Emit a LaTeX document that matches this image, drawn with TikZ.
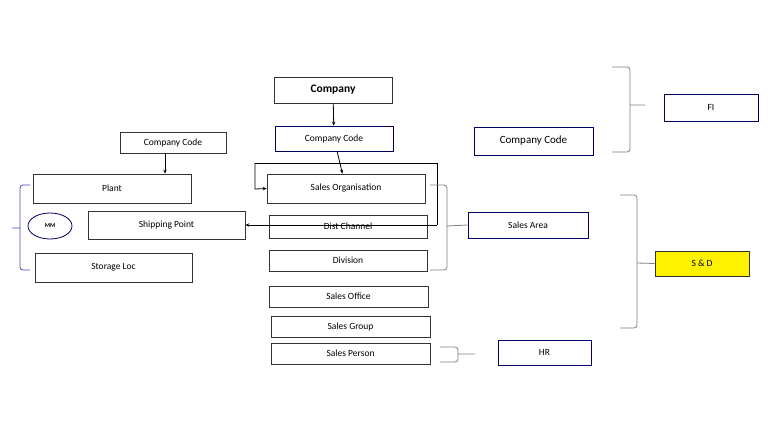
\documentclass[tikz,border=0pt]{standalone}
\usepackage{fontspec}
\setmainfont{Carlito}
\usetikzlibrary{positioning,arrows.meta,calc,shapes.geometric}
\tikzset{
  box/.style={draw=black!80, thick, minimum height=23pt, inner sep=1pt, font=\fontsize{9.5}{11}\selectfont},
  bluebox/.style={box, draw=blue!40!black},
  conn/.style={-{Stealth[length=4pt,width=3.5pt]}, thick},
  brace/.style={draw=gray, thick, rounded corners=3pt},
}
\begin{document}
\begin{tikzpicture}[x=1pt,y=-1pt]
  \useasboundingbox (0,0) rectangle (768,433);

  % centre column
  \node[box, minimum width=118pt, minimum height=26pt, font=\fontsize{11.5}{13}\selectfont\bfseries] (company) at (333,90) {Company};
  \node[bluebox, minimum width=118pt, minimum height=25pt] (cc) at (334,138.5) {Company Code};
  \node[box, minimum width=158pt, minimum height=29pt] (salesorg) at (346,188.5) {Sales Organisation};
  \node[box, minimum width=158pt] (dist) at (348,226.5) {Dist Channel};
  \node[box, minimum width=158pt, minimum height=21pt] (division) at (348,260.5) {Division};
  \node[box, minimum width=159pt, minimum height=21pt] (office) at (348.5,296.5) {Sales Office};
  \node[box, minimum width=159pt, minimum height=21pt] (group) at (350.5,326.5) {Sales Group};
  \node[box, minimum width=159pt, minimum height=21pt] (person) at (350.5,353.5) {Sales Person};

  % left column
  \node[box, minimum width=106pt, minimum height=21pt] (ccleft) at (173,142.5) {Company Code};
  \node[box, minimum width=158pt, minimum height=29pt] (plant) at (112,188.5) {Plant};
  \node[box, minimum width=157pt, minimum height=28pt] (ship) at (166.5,225) {Shipping Point};
  \node[box, minimum width=157pt, minimum height=29pt] (storage) at (113.5,267.5) {Storage Loc};
  \node[draw=blue!40!black, thick, ellipse, minimum width=44pt, minimum height=26pt, inner sep=0pt, font=\fontsize{6}{7}\selectfont\bfseries] (mm) at (50,226) {MM};

  % right column
  \node[bluebox, minimum width=119pt, minimum height=28pt, font=\fontsize{11}{13}\selectfont] (ccright) at (533.5,141) {Company Code};
  \node[bluebox, minimum width=94pt, minimum height=27pt] (fi) at (711,107.5) {FI};
  \node[bluebox, minimum width=120pt, minimum height=26pt] (area) at (528,225) {Sales Area};
  \node[box, fill=yellow, minimum width=94pt, minimum height=25pt] (sd) at (702,263.5) {S \& D};
  \node[bluebox, minimum width=93pt, minimum height=25pt] (hr) at (544.5,352.5) {HR};

  % Pfeile
  \draw[conn] (company) -- (cc);
  \draw[conn] (cc) -- (salesorg);
  \draw[conn] ($(ccleft.south)+(-8,0)$) -- ($(plant.north)+(53,0)$);
  \draw[thick] (255,163) -- (437,163) -- (437,225);
  \draw[conn] (437,225) -- (ship.east);
  \draw[conn] (255,163) -- (255,189) -- (salesorg.west);

  % Klammern
  \draw[brace, draw=blue!40!gray] (30,185) -| (20,270) -- (30,270) (20,228) -- (12,228);
  \draw[brace] (430,185) -| (447,270) -- (430,270) (447,226) -- (area.west);
  \draw[brace] (612,67) -| (630,152) -- (612,152) (630,105) -- (645,105);
  \draw[brace] (620,195) -| (637,328) -- (620,328) (637,263) -- (sd.west);
  \draw[brace] (440,347) -| (458,362) -- (440,362) (458,354) -- (475,354);
\end{tikzpicture}
\end{document}
